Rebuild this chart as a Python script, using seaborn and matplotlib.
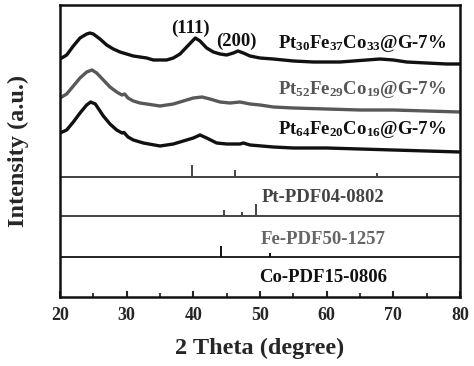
import matplotlib
matplotlib.use("Agg")
import matplotlib.pyplot as plt
import seaborn as sns
import numpy as np

# ---- data -------------------------------------------------------------
# sample curves (2theta, stacked intensity in arbitrary units)
x_pt30 = [20, 21, 22, 23, 24, 24.5, 25, 26, 27, 28, 29, 30, 31, 32, 33, 34, 35, 36, 37, 38,
          39, 40, 40.3, 41, 42, 43, 44, 45, 46, 46.7, 47.5, 48.5, 50, 52, 55, 58, 60, 62, 64,
          66, 68, 70, 72, 75, 78, 80]
y_pt30 = [238, 242, 251, 259, 263, 264, 263, 258, 252, 248, 245, 243, 241, 240, 239, 237, 237,
          237, 239, 243, 250, 257, 259, 256, 249, 245, 243, 242, 244, 246, 244, 241, 239, 238,
          236, 235, 235, 235, 236, 237, 238, 237, 235, 234, 233, 233]

x_pt52 = [20, 21, 22, 23, 24, 24.8, 25.5, 26.5, 27.5, 28.5, 29.3, 29.7, 30.2, 31, 32, 33, 35,
          37, 38.5, 40, 41.3, 42.5, 44, 45.5, 47, 48.5, 50, 52, 55, 60, 65, 70, 75, 80]
y_pt52 = [199, 203, 211, 219, 225, 227, 224, 217, 210, 205, 202, 203, 199, 196, 194, 193, 191,
          193, 196, 199, 200, 198, 195, 194, 195, 193, 192, 190, 189, 188, 187, 187, 186, 185]

x_pt64 = [20, 21, 22, 23, 24, 24.6, 25.3, 26.5, 27.5, 28.5, 29.3, 29.6, 30.2, 31, 32.5, 35, 37,
          38.5, 40, 41, 42, 43.5, 45, 47, 47.5, 48.5, 52, 55, 60, 65, 70, 75, 80]
y_pt64 = [164, 167, 175, 184, 192, 195, 193, 181, 173, 167, 164, 164.5, 160, 157, 154, 151, 153,
          156, 159, 162, 159, 154, 153, 153, 154, 152, 150, 149, 149, 148, 147, 146, 145]

sample_labels = [r"Pt$_{\mathbf{30}}$Fe$_{\mathbf{37}}$Co$_{\mathbf{33}}$@G-7%",
                 r"Pt$_{\mathbf{52}}$Fe$_{\mathbf{29}}$Co$_{\mathbf{19}}$@G-7%",
                 r"Pt$_{\mathbf{64}}$Fe$_{\mathbf{20}}$Co$_{\mathbf{16}}$@G-7%"]

# reference patterns: baseline, stick positions, stick heights
ref_labels = ["Pt-PDF04-0802", "Fe-PDF50-1257", "Co-PDF15-0806"]
ref_base = [120, 81, 40]
pt_pos = [39.75, 46.25, 67.5]
pt_h = [12, 7, 4]
fe_pos = [44.65, 47.35, 49.4]
fe_h = [6, 4.5, 12]
co_pos = [44.2, 51.5]
co_h = [11.5, 4.5]

hkl_labels = ["(111)", "(200)"]
xticks = [20, 30, 40, 50, 60, 70, 80]

# ---- style ------------------------------------------------------------
sns.set_style("white")
plt.rcParams["font.family"] = ["Liberation Serif", "DejaVu Serif"]
plt.rcParams["font.weight"] = "bold"
plt.rcParams["mathtext.fontset"] = "custom"
plt.rcParams["mathtext.rm"] = "Liberation Serif:bold"
plt.rcParams["mathtext.bf"] = "Liberation Serif:bold"
plt.rcParams["mathtext.it"] = "Liberation Serif:bold"

fig = plt.figure(figsize=(4.74, 3.66), dpi=100)
ax = fig.add_axes([60 / 474, 69 / 366, 400 / 474, 292 / 366])

curve_colors = ["#111111", "#585858", "#111111"]
for xs, ys, c in zip([x_pt30, x_pt52, x_pt64], [y_pt30, y_pt52, y_pt64], curve_colors):
    sns.lineplot(x=xs, y=ys, ax=ax, color=c, lw=2.4, estimator=None, sort=False)

# divider lines and sticks
line_colors = ["#333333", "#333333", "#111111"]
for b, c in zip(ref_base, line_colors):
    ax.axhline(b, color=c, lw=1.3)
stick_sets = [(pt_pos, pt_h, ref_base[0], "#444444"),
              (fe_pos, fe_h, ref_base[1], "#444444"),
              (co_pos, co_h, ref_base[2], "#111111")]
for pos, h, b, c in stick_sets:
    ax.vlines(pos, b, [b + v for v in h], color=c, lw=1.4)

# labels
fs = 13.5
sample_y = [254, 207, 167]
sample_c = ["#111111", "#555555", "#111111"]
for lab, yy, c in zip(sample_labels, sample_y, sample_c):
    ax.text(78, yy, lab, ha="right", va="center", fontsize=fs, color=c, fontweight="bold")

ref_y = [99, 58, 19]
ref_c = ["#444444", "#666666", "#111111"]
for lab, yy, c in zip(ref_labels, ref_y, ref_c):
    ax.text(59.5, yy, lab, ha="center", va="center", fontsize=fs, color=c, fontweight="bold")

ax.text(39.6, 269, hkl_labels[0], ha="center", va="center", fontsize=fs, color="#111111",
        fontweight="bold")
ax.text(46.5, 256, hkl_labels[1], ha="center", va="center", fontsize=fs, color="#111111",
        fontweight="bold")

ax.set_xlim(20, 80)
ax.set_ylim(0, 292)
ax.set_xticks(xticks)
ax.set_xticks([25, 35, 45, 55, 65, 75], minor=True)
ax.set_xticklabels([str(t) for t in xticks], fontsize=13, fontweight="bold")
ax.set_yticks([])
ax.tick_params(axis="x", which="major", direction="in", length=4.5, width=1.5, pad=7.5,
               bottom=True, top=False)
ax.tick_params(axis="x", which="minor", direction="in", length=3, width=1.3,
               bottom=True, top=False)
for s in ax.spines.values():
    s.set_linewidth(1.8)
    s.set_color("#111111")

ax.set_xlabel("2 Theta (degree)", fontsize=17.5, fontweight="bold", labelpad=10)
ax.set_ylabel("Intensity (a.u.)", fontsize=17.5, fontweight="bold", labelpad=22)

fig.savefig("out.png", dpi=100)
